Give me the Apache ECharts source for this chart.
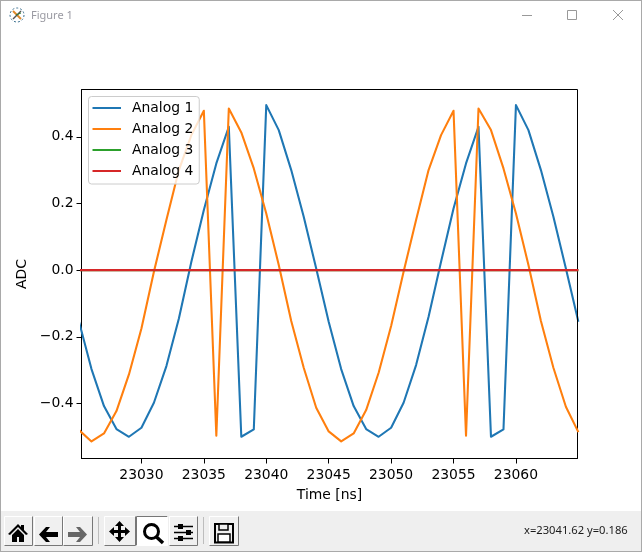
<!DOCTYPE html>
<html><head><meta charset="utf-8">
<style>html,body{margin:0;padding:0;background:#fff}#c{width:642px;height:552px}</style>
<script src="https://cdn.jsdelivr.net/npm/echarts@6/dist/echarts.min.js"></script>
</head><body><div id="c"></div>
<script>
const times = [23025,23026,23027,23028,23029,23030,23031,23032,23033,23034,23035,23036,23037,23038,23039,23040,23041,23042,23043,23044,23045,23046,23047,23048,23049,23050,23051,23052,23053,23054,23055,23056,23057,23058,23059,23060,23061,23062,23063,23064,23065];
const analog1 = [-0.155,-0.297,-0.408,-0.477,-0.5,-0.473,-0.398,-0.288,-0.145,0.025,0.18,0.32,0.43,-0.5,-0.478,0.495,0.42,0.3,0.16,0.005,-0.155,-0.297,-0.408,-0.477,-0.5,-0.473,-0.398,-0.285,-0.14,0.025,0.185,0.32,0.43,-0.5,-0.478,0.495,0.42,0.3,0.16,0.005,-0.155];
const analog2 = [-0.48,-0.514,-0.49,-0.423,-0.313,-0.175,-0.005,0.15,0.3,0.405,0.478,-0.497,0.485,0.413,0.305,0.17,0.015,-0.153,-0.293,-0.413,-0.484,-0.514,-0.49,-0.42,-0.308,-0.168,-0.005,0.15,0.3,0.405,0.478,-0.497,0.485,0.42,0.305,0.17,0.015,-0.153,-0.293,-0.41,-0.486];
const analog3 = [0,0,0,0,0,0,0,0,0,0,0,0,0,0,0,0,0,0,0,0,0,0,0,0,0,0,0,0,0,0,0,0,0,0,0,0,0,0,0,0,0];
const analog4 = [0,0,0,0,0,0,0,0,0,0,0,0,0,0,0,0,0,0,0,0,0,0,0,0,0,0,0,0,0,0,0,0,0,0,0,0,0,0,0,0,0];
const seriesNames = ['Analog 1','Analog 2','Analog 3','Analog 4'];
const xTicks = [23030,23035,23040,23045,23050,23055,23060];
const yTicks = [-0.4,-0.2,0,0.2,0.4];
const colors = ['#1f77b4','#ff7f0e','#2ca02c','#d62728'];
const pairs = a => a.map((v,i)=>[times[i],v]);
const font = 'DejaVu Sans';
const uiFont = 'Noto Sans';
const fs = 13.9;

const g = [];
const rect=(x,y,w,h,fill,stroke,lw,z)=>g.push({type:'rect',silent:true,z:z||0,shape:{x,y,width:w,height:h},style:{fill:fill||'none',stroke:stroke||'none',lineWidth:lw||1}});
const poly=(x,y,pts,fill)=>g.push({type:'polygon',silent:true,z:2,shape:{points:pts.map(p=>[p[0]+x,p[1]+y])},style:{fill}});
const line=(a,b,c,d,col,lw)=>g.push({type:'line',silent:true,z:2,shape:{x1:a,y1:b,x2:c,y2:d},style:{stroke:col,lineWidth:lw||1}});
const text=(x,y,t,size,col,f)=>g.push({type:'text',silent:true,z:2,x,y,style:{text:t,fontSize:size,fill:col,fontFamily:f||uiFont,verticalAlign:'middle'}});

// window frame
rect(0,511,642,40,'#efefef');
line(0.5,0,0.5,552,'#a9a9a9');
line(641.5,0,641.5,552,'#a9a9a9');
line(0,0.5,642,0.5,'#a9a9a9');
line(0,551.5,642,551.5,'#a9a9a9');
// title bar
g.push({type:'circle',silent:true,z:2,shape:{cx:17,cy:15,r:7},style:{fill:'none',stroke:'#3a6f8f',lineWidth:1,lineDash:[2,2]}});
line(13,11,21,19,'#e08a2c',2); line(13,19,21,11,'#555',1.5); line(16,15,21,13,'#2e7d32',1);
text(31,16,'Figure 1',11,'#9a9aa2');
line(522,15.5,532,15.5,'#999');
rect(567.5,10.5,9,9,null,'#999',1,2);
line(613,10,623,20,'#999'); line(623,10,613,20,'#999');
// toolbar
function btn(x,w,pressed){
  rect(x+.5,516.5,w,29,pressed?'#fff':'#f0f0f0',null);
  const hi=pressed?'#777':'#fff', lo=pressed?'#fff':'#777';
  line(x+.5,516.5,x+w+.5,516.5,hi); line(x+.5,516.5,x+.5,545.5,hi);
  line(x+w+.5,516.5,x+w+.5,545.5,lo); line(x+.5,545.5,x+w+.5,545.5,lo);
}
btn(4,28); btn(34,28); btn(63,29); btn(104,31); btn(136,31,true); btn(169,28); btn(209,29);
line(98.5,517,98.5,544,'#bdbdbd'); line(203.5,517,203.5,544,'#bdbdbd');
poly(8,524,[[0,10],[10,0],[13,3],[13,1],[16,1],[16,6],[20,10],[18,11],[10,3],[2,11]],'#000');
poly(8,524,[[4,11],[10,5],[16,11],[16,18],[11,18],[11,13],[9,13],[9,18],[4,18]],'#000');
poly(39,527,[[0,7.5],[7,0],[11,0],[7,5],[19,5],[19,10],[7,10],[11,15],[7,15]],'#000');
poly(68,527,[[19,7.5],[12,0],[8,0],[12,5],[0,5],[0,10],[12,10],[8,15],[12,15]],'#666');
poly(109,521,[[10.5,0],[15,5],[12,5],[12,9],[16,9],[16,6],[21,10.5],[16,15],[16,12],[12,12],[12,16],[15,16],[10.5,21],[6,16],[9,16],[9,12],[5,12],[5,15],[0,10.5],[5,6],[5,9],[9,9],[9,5],[6,5]],'#000');
g.push({type:'circle',silent:true,z:2,shape:{cx:151.5,cy:531.5,r:7},style:{fill:'none',stroke:'#000',lineWidth:3}});
line(156.5,537,163,543,'#000',3.5);
line(174,526.5,193,526.5,'#000',1.5); line(174,532.5,193,532.5,'#000',1.5); line(174,538.5,193,538.5,'#000',1.5);
rect(178,524,5,5,'#000',null,1,2); rect(186,530,5,5,'#000',null,1,2); rect(178,536,5,5,'#000',null,1,2);
rect(215,524,18,18.5,'#f0f0f0','#000',2,2);
rect(219,524,9,6,'#f0f0f0','#000',1.5,2);
rect(218,534,12,8,'#fff','#000',1.5,2);
text(524,531,'x=23041.62 y=0.186',11.2,'#1a1a1a');

const chart = echarts.init(document.getElementById('c'),null,{renderer:'canvas'});
chart.setOption({
  animation:false,
  backgroundColor:'#fff',
  textStyle:{fontFamily:font},
  grid:{left:81.5,top:89.5,width:496,height:369,show:false,containLabel:false},
  legend:{
    left:88.5,top:96.5,orient:'vertical',
    data:seriesNames,
    icon:'rect',itemWidth:28.5,itemHeight:2,itemGap:7,
    padding:[4.5,6,6,4],
    backgroundColor:'rgba(255,255,255,0.8)',
    borderColor:'#cccccc',borderWidth:1,borderRadius:3,
    textStyle:{fontFamily:font,fontSize:fs,color:'#000',lineHeight:14,padding:[0,0,0,6]},
    selectedMode:false
  },
  xAxis:{
    type:'value',min:23025.2,max:23064.93,position:'bottom',
    name:'Time [ns]',nameLocation:'middle',nameGap:30,nameMoveOverlap:false,
    nameTextStyle:{fontFamily:font,fontSize:fs,color:'#000'},
    splitLine:{show:false},
    axisLine:{show:true,onZero:false,lineStyle:{color:'#000',width:1}},
    axisTick:{show:true,length:5,customValues:xTicks,lineStyle:{color:'#000',width:1}},
    axisLabel:{show:true,customValues:xTicks,margin:10,fontFamily:font,fontSize:fs,color:'#000',formatter:v=>String(v)}
  },
  yAxis:{
    type:'value',min:-0.5652,max:0.5418,position:'left',
    name:'ADC',nameLocation:'middle',nameGap:52,nameRotate:90,nameMoveOverlap:false,
    nameTextStyle:{fontFamily:font,fontSize:fs,color:'#000'},
    splitLine:{show:false},
    axisLine:{show:true,onZero:false,lineStyle:{color:'#000',width:1}},
    axisTick:{show:true,length:5,customValues:yTicks,lineStyle:{color:'#000',width:1}},
    axisLabel:{show:true,customValues:yTicks,margin:8,padding:[4,0,0,0],fontFamily:font,fontSize:fs,color:'#000',
      formatter:v=>(v<0?'\u2212':'')+Math.abs(v).toFixed(1)}
  },
  series:[analog1,analog2,analog3,analog4].map((a,i)=>({
    name:seriesNames[i],type:'line',data:pairs(a),showSymbol:false,symbol:'none',clip:true,
    lineStyle:{color:colors[i],width:2.08,join:'round'},itemStyle:{color:colors[i]},
    z:2+i,silent:true
  })),
  graphic:g.concat([
    {type:'line',silent:true,z:3,shape:{x1:81.5,y1:89.5,x2:577.5,y2:89.5},style:{stroke:'#000',lineWidth:1}},
    {type:'line',silent:true,z:3,shape:{x1:577.5,y1:89.5,x2:577.5,y2:458.5},style:{stroke:'#000',lineWidth:1}}
  ])
});
</script></body></html>
